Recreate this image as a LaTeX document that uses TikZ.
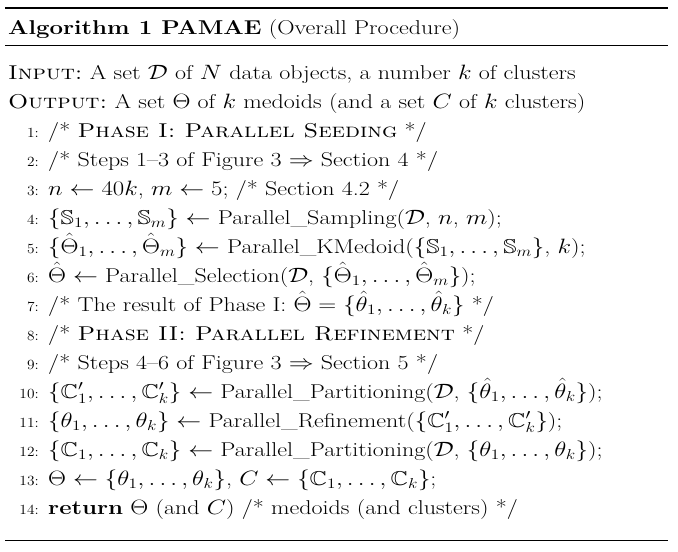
\documentclass[tikz,border=0pt]{standalone}
\usepackage{amsmath,amssymb}
\begin{document}
\begin{tikzpicture}[x=1pt,y=1pt,
  txt/.style={anchor=base west,inner sep=0pt,xscale=1.2,font=\fontsize{20}{23}\selectfont},
  num/.style={anchor=base east,inner sep=0pt,xscale=1.1,font=\fontsize{14}{17}\selectfont}]
\useasboundingbox (0,0) rectangle (678,-552);
\draw[line width=1.6pt] (5,-8) -- (668,-8);
\draw[line width=0.7pt] (5,-45) -- (668,-45);
\draw[line width=0.7pt] (5,-540) -- (668,-540);
\node[txt] (title) at (8,-34) {\textbf{Algorithm 1 PAMAE} (Overall Procedure)};
\node[txt] (in) at (8,-79) {\textsc{Input:}\ A set $\mathcal{D}$ of $N$ data objects, a number $k$ of clusters};
\node[txt] (out) at (8,-108) {\textsc{Output:}\ A set $\Theta$ of $k$ medoids (and a set $C$ of $k$ clusters)};
\foreach \i/\t in {
1/{/* \textsc{Phase I: Parallel Seeding} */},
2/{/* Steps 1--3 of Figure 3 $\Rightarrow$ Section 4 */},
3/{$n \leftarrow 40k$, $m\leftarrow 5$; /* Section 4.2 */},
4/{$\{\mathbb{S}_1,\ldots,\mathbb{S}_m\}\leftarrow$ Parallel\_Sampling($\mathcal D$, $n$, $m$);},
5/{$\{\hat\Theta_1,\ldots,\hat\Theta_m\}\leftarrow$ Parallel\_KMedoid($\{\mathbb S_1,\ldots,\mathbb S_m\}$, $k$);},
6/{$\hat\Theta\leftarrow$ Parallel\_Selection($\mathcal D$, $\{\hat\Theta_1,\ldots,\hat\Theta_m\}$);},
7/{/* The result of Phase I: $\hat\Theta=\{\hat\theta_1,\ldots,\hat\theta_k\}$ */},
8/{/* \textsc{Phase II: Parallel Refinement} */},
9/{/* Steps 4--6 of Figure 3 $\Rightarrow$ Section 5 */},
10/{$\{\mathbb C'_1,\ldots,\mathbb C'_k\}\leftarrow$ Parallel\_Partitioning($\mathcal D$, $\{\hat\theta_1,\ldots,\hat\theta_k\}$);},
11/{$\{\theta_1,\ldots,\theta_k\}\leftarrow$ Parallel\_Refinement($\{\mathbb C'_1,\ldots,\mathbb C'_k\}$);},
12/{$\{\mathbb C_1,\ldots,\mathbb C_k\}\leftarrow$ Parallel\_Partitioning($\mathcal D$, $\{\theta_1,\ldots,\theta_k\}$);},
13/{$\Theta\leftarrow\{\theta_1,\ldots,\theta_k\}$, $C\leftarrow\{\mathbb C_1,\ldots,\mathbb C_k\}$;},
14/{\textbf{return} $\Theta$ (and $C$) /* medoids (and clusters) */}} {
  \node[num] (n\i) at (39,{-137-29*(\i-1)}) {\i:};
  \node[txt] (l\i) at (48,{-137-29*(\i-1)}) {\t};
}
\end{tikzpicture}
\end{document}
